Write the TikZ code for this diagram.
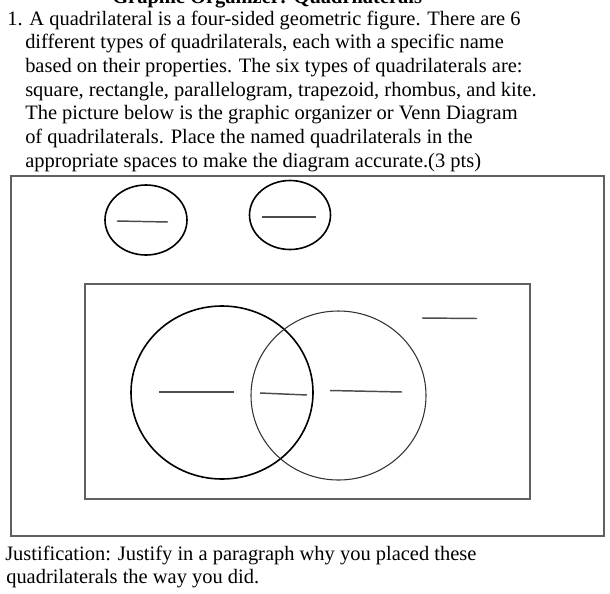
\documentclass[tikz,border=0pt]{standalone}
\usepackage{fontspec}
\setmainfont{Liberation Serif}
\usetikzlibrary{shapes.geometric}

\begin{document}
\begin{tikzpicture}[
  x=0.75pt, y=-0.75pt,
  txt/.style={anchor=base west, inner sep=0pt,
              font=\fontsize{15.35}{17.8}\selectfont},
  frame/.style={draw=gray!75!black, line width=1pt},
  ring/.style={draw, ellipse, inner sep=0pt, line width=1.2pt},
  blank/.style={draw=gray!60!black, line width=1.1pt},
]
\useasboundingbox (0,0) rectangle (610,593);
\clip (0,0) rectangle (610,593);

% Title (cut off at the top edge)
\node[txt, font=\fontsize{15.35}{17.8}\selectfont\bfseries] (title) at (112,3)
  {Graphic Organizer: Quadrilaterals};

% Question text
\node[txt] (q0) at (7,25)
  {1. A quadrilateral is a four-sided geometric figure. There are 6};
\foreach \ln [count=\i] in {
    {different types of quadrilaterals, each with a specific name},
    {based on their properties. The six types of quadrilaterals are:},
    {square, rectangle, parallelogram, trapezoid, rhombus, and kite.},
    {The picture below is the graphic organizer or Venn Diagram},
    {of quadrilaterals. Place the named quadrilaterals in the},
    {appropriate spaces to make the diagram accurate.(3 pts)}}
  \node[txt] (q\i) at (25,{25+\i*23.7}) {\ln};

% Outer box: all quadrilaterals
\draw[frame] (11,176) rectangle (604,536);

% Two small circles
\node[ring, minimum width=61.5pt, minimum height=52.5pt] (kite) at (146,220) {};
\node[ring, minimum width=60.75pt, minimum height=51.75pt] (trap) at (290,215) {};
\draw[blank] (117,221) -- (168,222);
\draw[blank] (262,217) -- (316,217);

% Inner box: parallelograms
\draw[frame] (85,284) rectangle (530,499);
\draw[blank] (422,318) -- (477,318.5);

% Venn diagram
\node[ring, minimum width=136.5pt, minimum height=129.75pt] (rect) at (222,392.5) {};
\node[ring, line width=0.8pt, draw=black!80,
      minimum width=131.25pt, minimum height=126.75pt] (rhom) at (338.5,395.5) {};
\draw[blank] (159,392) -- (234,392);
\draw[blank] (260,393) -- (307,395);
\draw[blank] (330,390.5) -- (402,392);

% Justification
\node[txt] (j0) at (5,560)
  {Justification: Justify in a paragraph why you placed these};
\node[txt] (j1) at (6,583.5) {quadrilaterals the way you did.};
\end{tikzpicture}
\end{document}
